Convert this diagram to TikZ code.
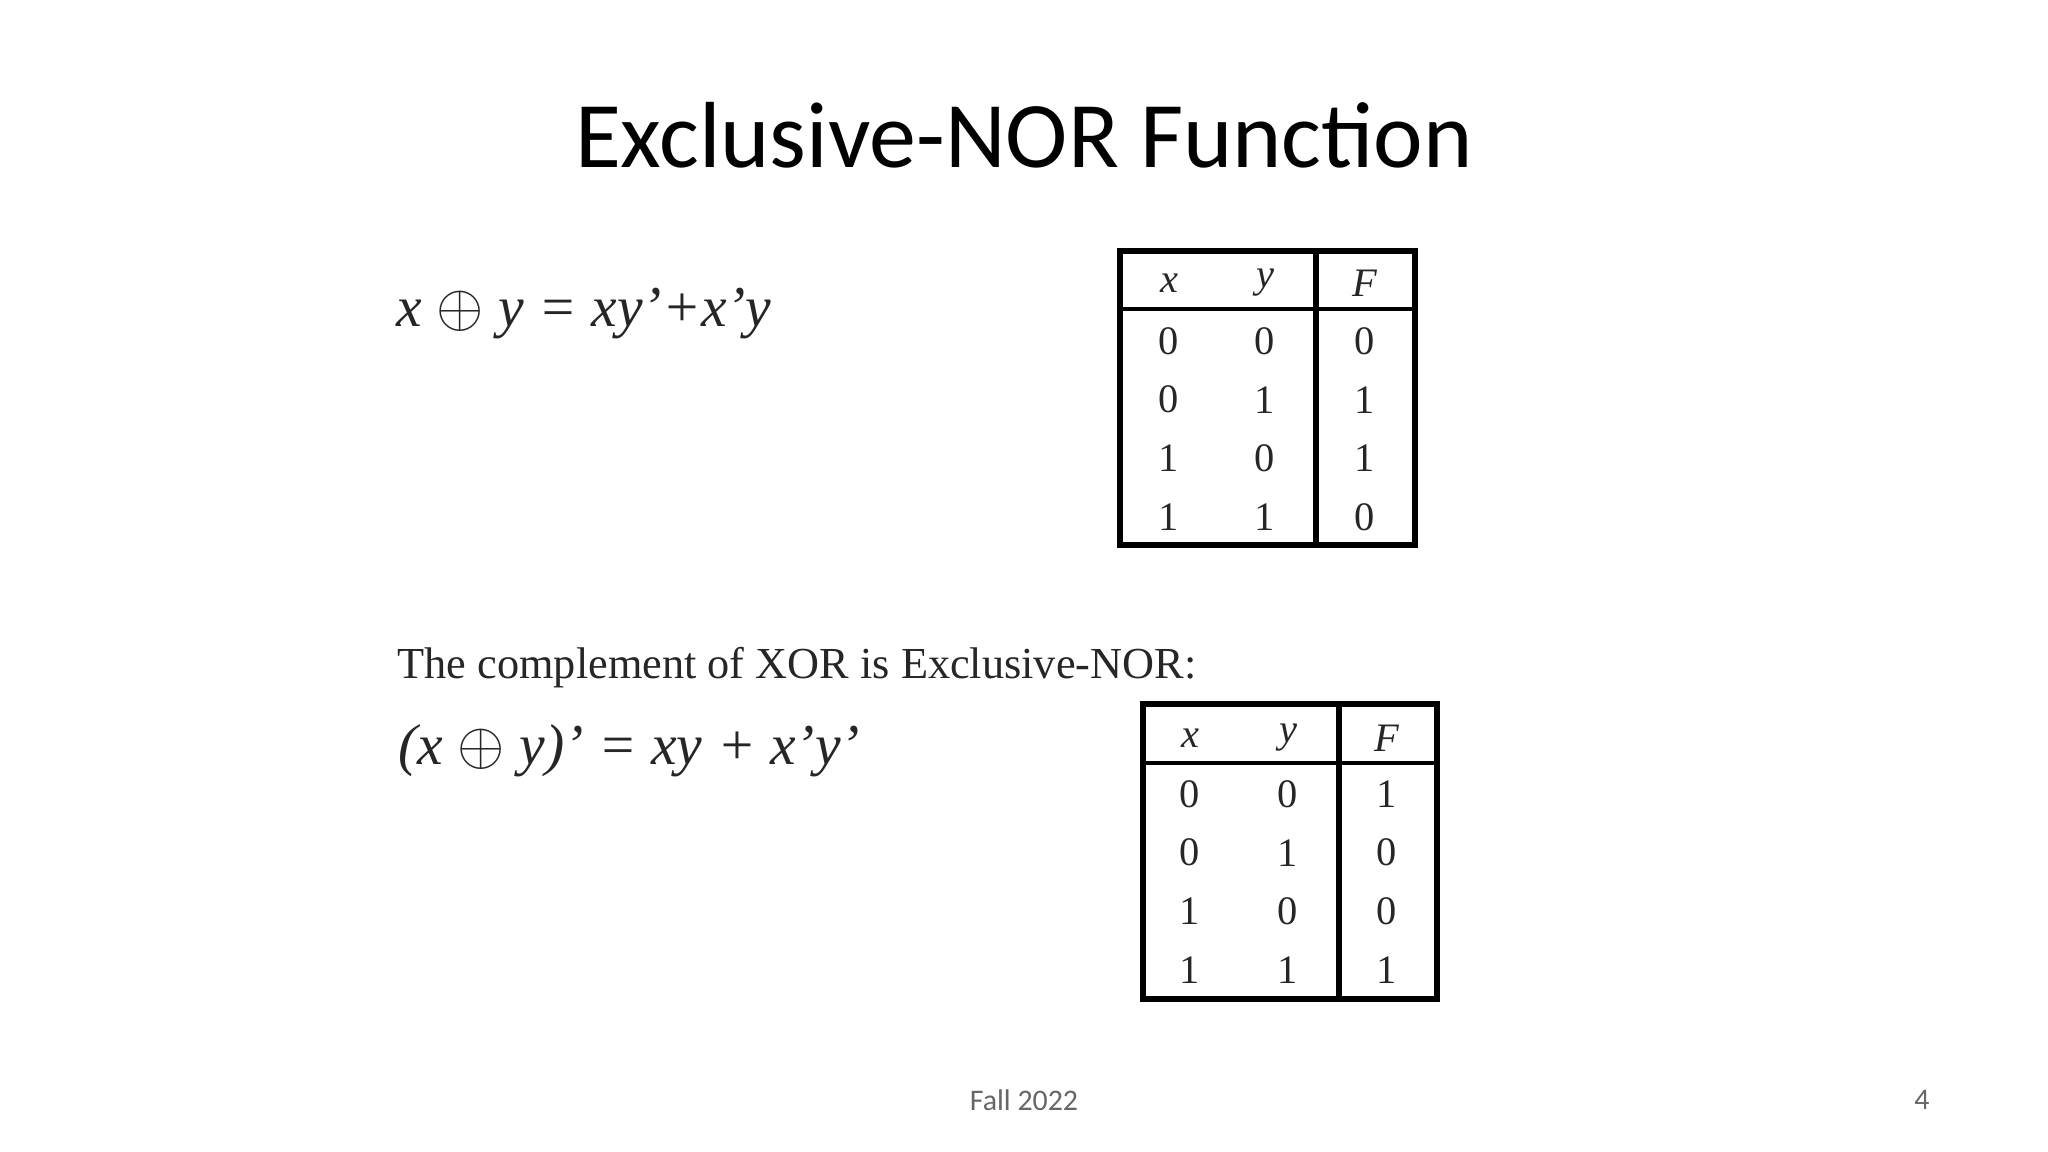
\documentclass[tikz,border=0pt]{standalone}
\usepackage{fontspec}
\setmainfont{Liberation Serif}
\newfontfamily\calib{Carlito}
\begin{document}
\begin{tikzpicture}[x=0.01cm,y=-0.01cm,
  cell/.style={font=\fontsize{11.5}{14}\selectfont,text=black!85},
  eq/.style={anchor=base west,inner sep=0,text=black!85,font=\fontsize{16.4}{19}\selectfont\itshape},
  outer/.style={line width=1.6pt},
  inner/.style={line width=0.9pt}]
\useasboundingbox (0,0) rectangle (2048,1152);
\node[font=\calib\fontsize{26.7}{32}\selectfont] (title) at (1024,135) {Exclusive-NOR Function};
\node[eq] (e1) at (396,327) {x $\oplus$ y = xy’+x’y};
\node[eq,font=\fontsize{12.6}{15}\selectfont] (t2) at (397,679) {The complement of XOR is Exclusive-NOR:};
\node[eq] (e2) at (398,764) {(x $\oplus$ y)’ = xy + x’y’};
% table 1
\draw[outer] (1120,251) rectangle (1415,545);
\draw[inner] (1120,309) -- (1415,309);
\draw[outer] (1316,251) -- (1316,545);
\foreach \a/\b/\c [count=\i] in {{\itshape x}/{\itshape y}/{\itshape F},0/0/0,0/1/1,1/0/1,1/1/0}{
  \pgfmathsetmacro\yy{ifthenelse(\i==1,283,341+(\i-2)*58.7)}
  \node[cell] (a1\i) at (1169,\yy) {\a};
  \node[cell] (b1\i) at (1265,\yy) {\b};
  \node[cell] (c1\i) at (1365,\yy) {\c};
}
% table 2
\draw[outer] (1143,704) rectangle (1437,999);
\draw[inner] (1143,763) -- (1437,763);
\draw[outer] (1339,704) -- (1339,999);
\foreach \a/\b/\c [count=\i] in {{\itshape x}/{\itshape y}/{\itshape F},0/0/1,0/1/0,1/0/0,1/1/1}{
  \pgfmathsetmacro\yy{ifthenelse(\i==1,738,794+(\i-2)*58.7)}
  \node[cell] (a2\i) at (1190,\yy) {\a};
  \node[cell] (b2\i) at (1288,\yy) {\b};
  \node[cell] (c2\i) at (1387,\yy) {\c};
}
\node[font=\calib\fontsize{8.5}{11}\selectfont,text=black!60] (foot) at (1024,1100) {Fall 2022};
\node[font=\calib\fontsize{8.5}{11}\selectfont,text=black!60] (num) at (1922,1100) {4};
\end{tikzpicture}
\end{document}
